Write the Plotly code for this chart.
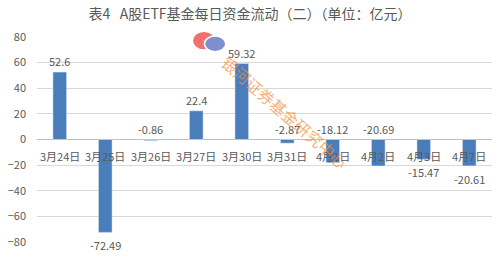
import plotly.graph_objects as go

categories = ["3月24日", "3月25日", "3月26日", "3月27日", "3月30日",
              "3月31日", "4月1日", "4月2日", "4月3日", "4月7日"]
values = [52.6, -72.49, -0.86, 22.4, 59.32, -2.87, -18.12, -20.69, -15.47, -20.61]
labels = ["52.6", "-72.49", "-0.86", "22.4", "59.32", "-2.87", "-18.12", "-20.69", "-15.47", "-20.61"]
label_above = [True, False, True, True, True, True, True, True, False, False]
y_ticks = [-80, -60, -40, -20, 0, 20, 40, 60, 80]

FONT = "Noto Sans CJK SC, Liberation Sans, sans-serif"
GRAY = "#595959"

fig = go.Figure()
fig.add_trace(go.Bar(x=categories, y=values, marker_color="#4a7ebb",
                     width=0.3, hoverinfo="skip"))

annotations = []
for c, v, t, above in zip(categories, values, labels, label_above):
    if above:
        annotations.append(dict(x=c, y=max(v, 0), text=t, showarrow=False,
                                yanchor="bottom", yshift=1,
                                font=dict(size=11, color=GRAY, family=FONT)))
    else:
        annotations.append(dict(x=c, y=v, text=t, showarrow=False,
                                yanchor="top", yshift=-3,
                                font=dict(size=11, color=GRAY, family=FONT)))
    annotations.append(dict(x=c, y=0, text=c, showarrow=False, yanchor="top",
                            yshift=-6, font=dict(size=11, color=GRAY, family=FONT)))

# watermark text
annotations.append(dict(x=0.545, y=0.635, xref="paper", yref="paper",
                        text="银河证券基金研究中心", showarrow=False, textangle=41,
                        font=dict(size=16, color="rgba(245,140,60,0.7)", family=FONT)))

fig.update_layout(
    width=500, height=257,
    margin=dict(l=32, r=8, t=37, b=12),
    paper_bgcolor="white", plot_bgcolor="white",
    showlegend=False,
    title=dict(text="表4   A股ETF基金每日资金流动（二）（单位：亿元）",
               x=0.5, xanchor="center", y=0.945, yanchor="middle",
               font=dict(size=14, color=GRAY, family=FONT)),
    xaxis=dict(showticklabels=False, showgrid=False, zeroline=False,
               showline=False),
    yaxis=dict(range=[-80, 80], tickvals=y_ticks, showgrid=True,
               gridcolor="#d9d9d9", gridwidth=1, zeroline=True,
               zerolinecolor="#bfbfbf", zerolinewidth=1,
               tickfont=dict(size=11, color=GRAY, family=FONT),
               ticks="", ticklabelstandoff=10),
    annotations=annotations,
    shapes=[
        dict(type="circle", xref="paper", yref="paper",
             x0=0.343, x1=0.391, y0=0.94, y1=1.024,
             fillcolor="#f07070", line_width=0, layer="above"),
        dict(type="circle", xref="paper", yref="paper",
             x0=0.368, x1=0.415, y0=0.928, y1=1.005,
             fillcolor="#7d8fcc", line=dict(color="white", width=1.5), layer="above"),
    ],
)

fig.write_html("out.html")
